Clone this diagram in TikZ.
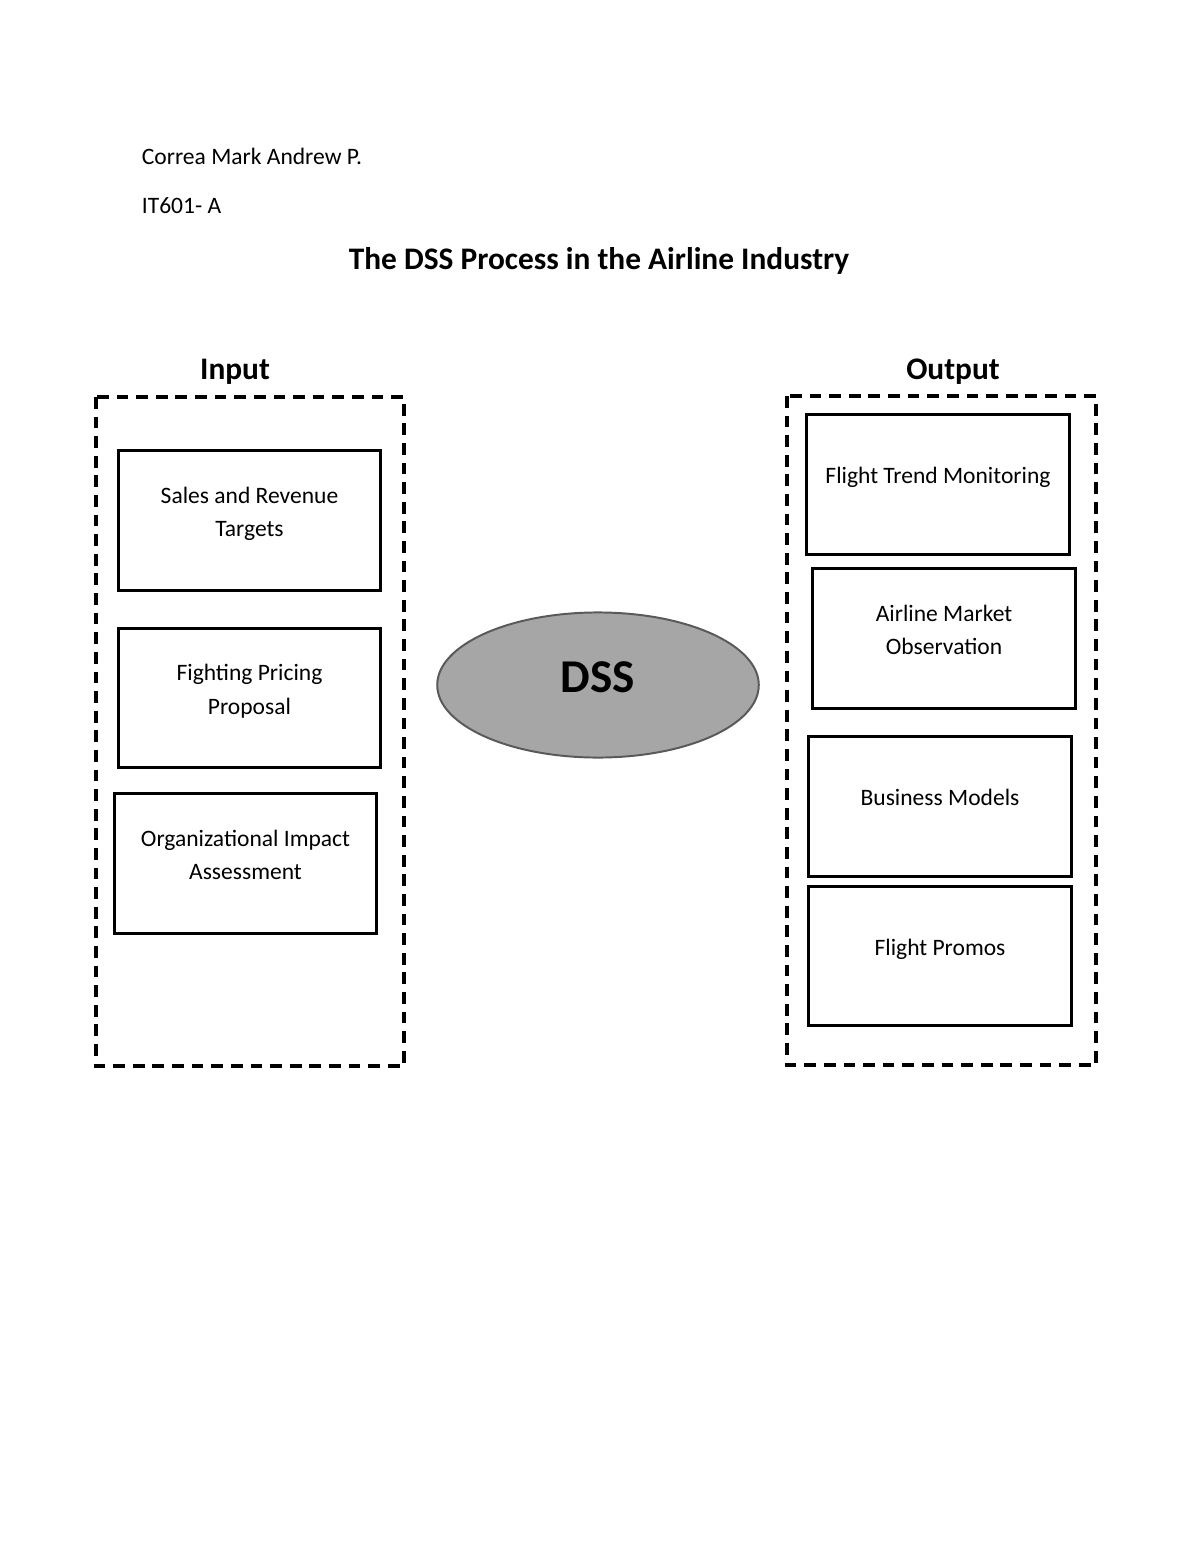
\documentclass[tikz,border=0pt]{standalone}
\usepackage{fontspec}
\setmainfont{Carlito}
\usepackage{tikz}
\usetikzlibrary{shapes.geometric, positioning}

\begin{document}
\begin{tikzpicture}[
  x=0.51pt, y=-0.51pt,
  font=\fontsize{12}{17}\selectfont,
  box/.style={draw, line width=1.5pt, minimum width=134pt,
              minimum height=71pt, align=center, text depth=9pt},
  group/.style={draw, line width=1.6pt, dash pattern=on 6pt off 4pt},
  hub/.style={draw=black!65, line width=1pt, ellipse, fill=black!35,
              minimum width=164pt, minimum height=74pt, text depth=8pt,
              font=\fontsize{24}{28}\selectfont\bfseries},
  heading/.style={font=\fontsize{16}{19}\selectfont\bfseries},
]
\useasboundingbox (0,0) rectangle (1200,1553);

%% Header
\node[anchor=west] (author) at (135, 156) {Correa Mark Andrew P.};
\node[anchor=west] (section) at (135, 206) {IT601- A};
\node[heading] (title) at (599, 261) {The DSS Process in the Airline Industry};

%% Input side
\node[heading] (inlabel) at (235, 372) {Input};
\draw[group] (96, 397) rectangle (404, 1066);
\node[box] (sales) at (249.5, 520.5) {Sales and Revenue\\Targets};
\node[box] (pricing) at (249.5, 698) {Fighting Pricing\\Proposal};
\node[box] (impact) at (245.5, 863.5) {Organizational Impact\\Assessment};

%% Decision support system
\node[hub] (dss) at (598, 685) {DSS};

%% Output side
\node[heading] (outlabel) at (953, 372) {Output};
\draw[group] (787, 396) rectangle (1096, 1065);
\node[box] (trend) at (938, 484.5) {Flight Trend Monitoring};
\node[box] (market) at (944, 638.5) {Airline Market\\Observation};
\node[box] (models) at (940, 806.5) {Business Models};
\node[box] (promos) at (940, 956) {Flight Promos};

\end{tikzpicture}
\end{document}
